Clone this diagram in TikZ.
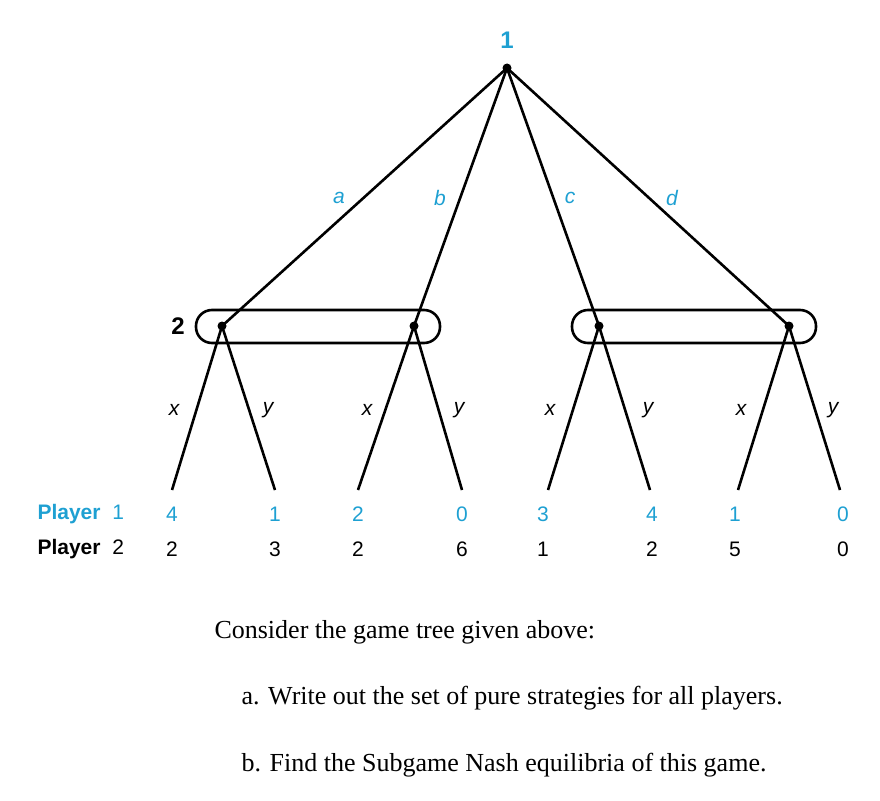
\documentclass[tikz,border=0pt]{standalone}
\usepackage{fontspec}
\setmainfont{Liberation Serif}
\setsansfont{Liberation Sans}
\begin{document}
\begin{tikzpicture}[x=1pt,y=-1pt,
  dot/.style={circle,fill=black,inner sep=0pt,minimum size=9pt},
  br/.style={line width=2.6pt},
  klab/.style={font=\sffamily\fontsize{21}{21}\selectfont\itshape},
  pay/.style={font=\sffamily\fontsize{21}{21}\selectfont},
  txt/.style={font=\fontsize{26}{26}\selectfont,anchor=west}]
\definecolor{gblue}{RGB}{30,160,210}
\useasboundingbox (0,0) rectangle (880,800);
\draw[br,rounded corners=16pt] (196,310) rectangle (440,343);
\draw[br,rounded corners=16pt] (572,310) rectangle (816,343);
\node[dot] (r) at (507,68) {};
\node[font=\sffamily\bfseries\fontsize{24}{24}\selectfont,text=gblue] at (507,40) {1};
\node[font=\sffamily\bfseries\fontsize{24}{24}\selectfont] at (178,326) {2};
\foreach \n/\x in {A/222,B/414,C/599,D/789}{\node[dot] (\n) at (\x,326) {};}
\foreach \n/\l/\lx in {A/a/339,B/b/440,C/c/570,D/d/672}{
  \draw[br] (r.center) -- (\n.center);
  \node[klab,text=gblue] at (\lx,198) {\l};}
\foreach \n/\a/\b/\ax/\bx in {A/172/275/174/268,B/358/462/367/459,C/548/650/550/648,D/738/840/741/833}{
  \coordinate (\n x) at (\a,490); \coordinate (\n y) at (\b,490);
  \draw[br] (\n.center) -- (\n x);
  \draw[br] (\n.center) -- (\n y);
  \node[klab] at (\ax,410) {x};
  \node[klab] at (\bx,410) {y};}
\node[text=gblue,anchor=west,font=\sffamily\bfseries\fontsize{21}{21}\selectfont] at (34,514) {Player\ \ \mdseries 1};
\node[anchor=west,font=\sffamily\bfseries\fontsize{21}{21}\selectfont] at (34,549) {Player\ \ \mdseries 2};
\foreach \x/\p/\q in {172/4/2,275/1/3,358/2/2,462/0/6,543/3/1,652/4/2,735/1/5,843/0/0}{
  \node[pay,text=gblue] at (\x,514) {\p};
  \node[pay] at (\x,549) {\q};}
\node[txt] at (211,632) {Consider the game tree given above:};
\node[txt] at (238,698) {a. Write out the set of pure strategies for all players.};
\node[txt] at (238,765) {b. Find the Subgame Nash equilibria of this game.};
\end{tikzpicture}
\end{document}
